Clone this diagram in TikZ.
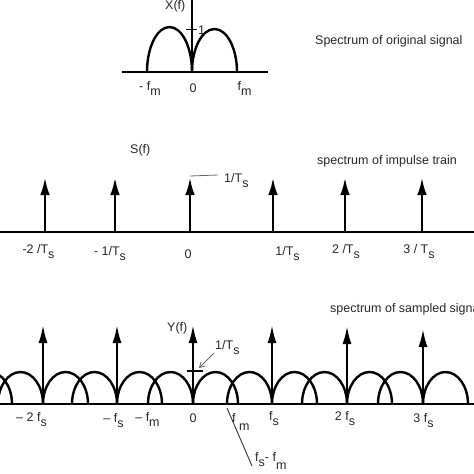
\documentclass[tikz,border=0pt]{standalone}
\usepackage{fontspec}
\setmainfont{Liberation Sans}
\usetikzlibrary{arrows.meta}
\newcommand{\lsub}[1]{\raisebox{-5pt}{#1}}
\begin{document}
\begin{tikzpicture}[x=1pt,y=-1pt,
  axis/.style={line width=2.6pt},
  lobe/.style={line width=2.4pt},
  impulse/.style={line width=2.8pt,-{Latex[length=18pt,width=9.5pt]}},
  impulseb/.style={line width=2.2pt,-{Latex[length=18pt,width=9pt]}},
  lbl/.style={font=\fontsize{12.5}{14}\selectfont, inner sep=0pt, anchor=base, text=black!85},
  ttl/.style={font=\fontsize{12.5}{14}\selectfont, inner sep=0pt, anchor=base west, text=black!85},
  leader/.style={line width=0.8pt, draw=black!60},
  thinline/.style={line width=0.9pt, draw=black!80},
]
\useasboundingbox (0,0) rectangle (474,474);
\clip (0,0) rectangle (474,474);

% ---------- top panel: X(f) ----------
\coordinate (xa0) at (122,72); \coordinate (xa1) at (268,72);
\coordinate (xv0) at (192,-3); \coordinate (xv1) at (192,72);
\draw[axis] (xa0) -- (xa1);
\draw[line width=2pt] (xv0) -- (xv1);
\draw[lobe] (147,72) arc[start angle=180,end angle=360,x radius=22.5,y radius=45];
\draw[lobe] (192,72) arc[start angle=180,end angle=360,x radius=22.5,y radius=43];
\coordinate (tk0) at (186,29); \coordinate (tk1) at (197,29);
\draw[line width=1pt] (tk0) -- (tk1);
\node[ttl] (one) at (198,34) {1};
\node[ttl] (xlab) at (165,9) {X(f)};
\node[lbl] (xm) at (150,90) {- f\lsub{m}};
\node[lbl] (x0) at (193,92) {0};
\node[lbl] (xp) at (244.5,90) {f\lsub{m}};
\node[ttl] (t1) at (315,44) {Spectrum of original signal};

% ---------- middle panel: S(f) ----------
\coordinate (sa0) at (-3,232); \coordinate (sa1) at (477,232);
\draw[axis] (sa0) -- (sa1);
\foreach \i/\x in {1/45,2/115,3/190,4/273,5/345,6/422}{
  \coordinate (sb\i) at (\x,232);
  \coordinate (st\i) at (\x,177);
  \draw[impulse] (sb\i) -- (st\i);
}
\node[ttl] (slab) at (130,153) {S(f)};
\node[ttl] (sh) at (224,182) {1/T\lsub{s}};
\coordinate (sl1) at (218,175);
\draw[leader] (st3) ++(0,-1) -- (sl1);
\node[lbl] (s1) at (38.5,253) {-2 /T\lsub{s}};
\node[lbl] (s2) at (110,255) {- 1/T\lsub{s}};
\node[lbl] (s3) at (188,258) {0};
\node[lbl] (s4) at (287.5,255) {1/T\lsub{s}};
\node[lbl] (s5) at (346,253) {2 /T\lsub{s}};
\node[lbl] (s6) at (419,253) {3 / T\lsub{s}};
\node[ttl] (t2) at (317,164) {spectrum of impulse train};

% ---------- bottom panel: Y(f) ----------
\coordinate (ya0) at (-3,404); \coordinate (ya1) at (477,404);
\draw[axis] (ya0) -- (ya1);
\foreach \c in {-33,43,117,193,272,347,423}{
  \draw[lobe] (\c-45,404) arc[start angle=180,end angle=360,x radius=22.5,y radius=32];
  \draw[lobe] (\c,404) arc[start angle=180,end angle=360,x radius=22.5,y radius=32];
}
\foreach \i/\x/\t in {1/43/325,2/117/325,3/193/325,4/272/325,5/347/326,6/423/329}{
  \coordinate (yb\i) at (\x,404);
  \coordinate (yt\i) at (\x,\t);
  \draw[impulseb] (yb\i) -- (yt\i);
}
\node[ttl] (ylab) at (167,331) {Y(f)};
\node[ttl] (yh) at (215,349) {1/T\lsub{s}};
\coordinate (yk0) at (187,371); \coordinate (yk1) at (203,371);
\draw[line width=1.2pt] (yk0) -- (yk1);
\coordinate (ya) at (214,353); \coordinate (yb) at (199,368);
\draw[leader,-{Straight Barb[length=5pt,width=6pt]}] (ya) -- (yb);
\node[lbl] (y1) at (31.5,421) {– 2 f\lsub{s}};
\node[lbl] (y2) at (113.5,422) {– f\lsub{s}};
\node[lbl] (y3) at (147.5,421) {– f\lsub{m}};
\node[lbl] (y4) at (193,422) {0};
\node[ttl] (y5) at (232,422) {f\raisebox{-8pt}{ m}};
\node[lbl] (y6) at (274,420) {f\lsub{s}};
\node[lbl] (y7) at (345,420) {2 f\lsub{s}};
\node[lbl] (y8) at (423.5,422) {3 f\lsub{s}};
\node[ttl] (y9) at (255,461) {f\lsub{s}- f\raisebox{-8pt}{m}};
\coordinate (dg0) at (227,408); \coordinate (dg1) at (252,466);
\draw[thinline] (dg0) -- (dg1);
\node[ttl] (t3) at (330,312) {spectrum of sampled signal};
\end{tikzpicture}
\end{document}
